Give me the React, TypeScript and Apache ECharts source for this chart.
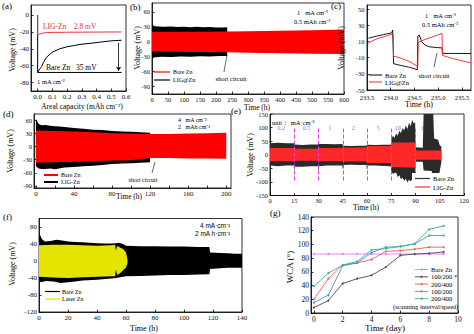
import React, { useEffect, useRef } from 'react';
import * as echarts from 'echarts';

type P = [number, number];
const SERIF = '"Liberation Serif", "Times New Roman", serif';
const SANS = '"Liberation Sans", Arial, sans-serif';

// ---------- (a) ----------
const aBareCurve: P[] = [[0, 0], [0, -68], [0.01, -65], [0.027, -61], [0.04, -56], [0.06, -50], [0.08, -47], [0.1, -44], [0.15, -40], [0.2, -37.5], [0.25, -36], [0.3, -34.5], [0.38, -33], [0.45, -31.5], [0.5, -30.5], [0.57, -29.8]];
const aLigCurve: P[] = [[0, 0], [0, -24], [0.01, -22.5], [0.03, -21.5], [0.06, -20.8], [0.1, -20.5], [0.2, -20.3], [0.3, -20.2], [0.4, -20.1], [0.5, -20], [0.57, -20]];
const aBaseline: P[] = [[0, -68], [0.57, -68]];
const aXLabels = [0, 0.1, 0.2, 0.3, 0.4, 0.5, 0.6];
const aYLabels = [-80, -60, -40, -20, 0];

// ---------- (b) ----------
const bBlackUpper: P[] = [[0, 36], [3, 33], [10, 31], [20, 30.5], [40, 30], [60, 30.5], [80, 29.5], [100, 30], [120, 29], [140, 30], [160, 29], [180, 29.5], [200, 28.5], [220, 28.5], [235, 29]];
const bBlackLower: P[] = [[0, -33], [10, -31], [30, -30], [60, -30.5], [90, -29.5], [120, -30], [150, -29], [180, -29.5], [210, -28.5], [235, -28.5]];
const bRedUpper: P[] = [[0, 20], [100, 20], [235, 20.5], [300, 21], [400, 22], [500, 23], [600, 24.5]];
const bRedLower: P[] = [[0, -19.5], [235, -21], [300, -22], [400, -23], [500, -24], [600, -24.5]];
const bXLabels = [0, 50, 100, 150, 200, 250, 300, 350, 400, 450, 500, 550, 600];
const bYLabels = [-90, -60, -30, 0, 30, 60];

// ---------- (c) ----------
const cBare: P[] = [[233.53, 14], [233.7, 16.5], [233.85, 18.5], [234.02, 20.5], [234.04, 24], [234.06, -17.5], [234.2, -19.5], [234.4, -22], [234.56, -25], [234.57, 16.5], [234.6, 18], [234.65, 10], [234.72, 5.5], [234.8, 3.5], [234.95, 2.5], [235.08, 2], [235.09, -4.8], [235.3, -4.8], [235.69, -5]];
const cLig: P[] = [[233.53, 7.5], [233.6, 10.5], [233.75, 14], [233.9, 16.5], [234.05, 19.5], [234.06, -8], [234.2, -10.5], [234.4, -15], [234.57, -21], [234.58, 9], [234.7, 12], [234.9, 16], [235.08, 20], [235.09, -7.3], [235.3, -11], [235.5, -14], [235.69, -16.5]];
const cXLabels = [233.5, 234.0, 234.5, 235.0, 235.5];
const cYLabels = [-50, -30, -10, 10, 30, 50];

// ---------- (d) ----------
const dBlackUpper: P[] = [[0, 63], [1, 60], [3, 52], [6, 49], [10, 50], [15, 48], [20, 47], [25, 46], [30, 45], [40, 43], [50, 41], [60, 39], [70, 38], [80, 36], [90, 35], [100, 34], [110, 33], [120, 32]];
const dBlackLower: P[] = [[0, -45], [3, -50], [8, -52], [15, -50], [20, -52], [30, -48], [40, -47], [50, -45], [60, -44], [70, -42], [80, -40], [90, -39], [100, -38], [110, -37], [120, -36]];
const dRedUpper: P[] = [[0, 37], [20, 36], [40, 35], [60, 33], [80, 31], [100, 30], [120, 29], [140, 29], [160, 30], [180, 31], [200, 32]];
const dRedLower: P[] = [[0, -37], [20, -36], [40, -35], [60, -33], [80, -32], [100, -31], [120, -26], [140, -26], [160, -27], [180, -27.5], [200, -28]];
const dXLabels = [0, 40, 80, 120, 160, 200];
const dXTicks = [0, 20, 40, 60, 80, 100, 120, 140, 160, 180, 200];
const dYLabels = [-90, -60, -30, 0, 30, 60];

// ---------- (e) ----------
const eBlackUpper: P[] = [[0, 42], [5, 44], [10, 42], [14.8, 42], [15, 38], [20, 36], [25, 38], [29.8, 38], [30, 48], [30.5, 40], [35, 40], [40, 39], [44.8, 40], [45, 33], [50, 32], [55, 33], [59.8, 33], [60, 37], [65, 36], [70, 37], [74.8, 37], [75, 55], [76, 70], [77, 62], [78, 78], [79, 70], [80, 88], [81, 80], [82, 98], [83, 90], [84, 108], [85, 95], [86, 118], [87, 105], [88, 128], [89, 115], [89.8, 120], [90, 28], [94.5, 26], [95, 150], [101, 150], [101.5, 60], [104, 55], [105, 35], [106, 30]];
const eBlackLower: P[] = [[0, -40], [5, -42], [10, -40], [14.7, -40], [15, -63], [15.3, -44], [20, -44], [25, -42], [29.7, -42], [30, -66], [30.3, -42], [35, -40], [40, -40], [44.7, -40], [45, -52], [45.3, -38], [50, -37], [55, -38], [59.7, -38], [60, -60], [60.3, -40], [65, -40], [70, -41], [74.7, -42], [75, -62], [76, -70], [78, -65], [79, -82], [80, -75], [81, -90], [82, -85], [83, -96], [84, -88], [85, -102], [86, -92], [87, -98], [88, -90], [89.8, -88], [90, -26], [94.5, -26], [95, -58], [100, -60], [101, -100], [103, -95], [104, -100], [105, -60], [106, -28]];
const eRedUpper: P[] = [[0, 25], [14.8, 25], [15, 22], [29.8, 22], [30, 25], [44.8, 25], [45, 27], [59.8, 27], [60, 32], [74.8, 32], [75, 45], [89.8, 45], [90, 16], [106, 16]];
const eRedLower: P[] = [[0, -24], [14.8, -24], [15, -22], [29.8, -22], [30, -24], [44.8, -24], [45, -25], [59.8, -25], [60, -30], [74.8, -30], [75, -45], [89.8, -48], [90, -18], [106, -18]];
const eSwitchTimes = [15, 30, 45, 60, 75, 90];
const eRateNames = ['0.2', '0.5', '1', '2', '5', '10', '1'];
const eRatePos = [7, 22.5, 37, 51.5, 67, 79, 94];
const eXLabels = [0, 15, 30, 45, 60, 75, 90, 105, 120];
const eYLabels = [-150, -100, -50, 0, 50, 100, 150];

// ---------- (f) ----------
const fBlackUpper: P[] = [[0, 55], [0.5, 63], [2, 52], [4, 46], [8, 47], [12, 50], [16, 48], [20, 46], [25, 45], [30, 44], [35, 43], [40, 42], [45, 41], [50, 41], [53, 42], [55, 43], [58, 40], [60, 36], [70, 35], [80, 35], [90, 34], [100, 34], [110, 33], [117.5, 33], [118, 20], [125, 19], [130, 18], [135, 17], [140, 17]];
const fBlackLower: P[] = [[0, -42], [1, -50], [5, -47], [10, -48], [15, -52], [20, -50], [25, -48], [30, -46], [40, -44], [50, -41], [53, -40], [56, -38], [60, -36], [70, -35], [80, -34], [90, -33], [100, -33], [110, -32], [117.5, -31], [118, -19], [125, -17], [130, -16], [140, -16]];
const fYellowUpper: P[] = [[0, 37], [10, 38], [20, 38], [30, 37], [40, 36], [50, 37], [52.5, 38], [53, 25], [54, 36], [56, 31], [58, 28], [60, 20], [61, 5]];
const fYellowLower: P[] = [[0, -37], [10, -39], [20, -40], [30, -38], [40, -37], [50, -36], [52.5, -36], [53, -20], [54, -33], [56, -28], [58, -22], [60, -15], [61, -5]];
const fXLabels = [0, 20, 40, 60, 80, 100, 120, 140];
const fYLabels = [-120, -80, -40, 0, 40, 80];

// ---------- (g) ----------
const gDays = [0, 1, 2, 3, 4, 5, 6, 7, 8, 9];
const gBareZn = [86, 86, 86, 86, 86, 86, 86, 86, 86, 86];
const g100Star = [8, 18, 43, 50, 55, 67, 84, 86, 87, 89];
const g200Red = [20, 50, 70, 73, 78, 90, 91, 93, 96, 96];
const g100Blue = [15, 26, 69, 73, 88, 96, 97, 101, 113, 113];
const g200Green = [39, 58, 70, 75, 92, 94, 97, 101, 122, 127];
const gNames = ['Bare Zn', '100/200 *', '200/400', '100/200', '200/400'];
const gColors = ['#e27ae8', '#4a4a4a', '#f05a5a', '#4b8fd8', '#36b58a'];
const gXLabels = [0, 2, 4, 6, 8, 10];
const gYLabels = [0, 20, 40, 60, 80, 100, 120, 140];

function axis(i: number, min: number, max: number, labels: number[], ticks: number[] | null, fmt?: (v: number) => string, fs = 7, margin = 2) {
  return {
    type: 'value', gridIndex: i, min, max,
    splitLine: { show: false },
    axisLine: { show: true, onZero: false, lineStyle: { color: '#000', width: 0.8 } },
    axisTick: { show: true, inside: true, length: 2.5, customValues: ticks ?? labels, lineStyle: { color: '#000', width: 0.8 } },
    axisLabel: { customValues: labels, interval: 0, fontSize: fs, fontFamily: SERIF, color: '#111', margin, showMinLabel: true, showMaxLabel: true, formatter: fmt ?? ((v: number) => String(v)) },
  };
}

function band(i: number, upper: P[], lower: P[], color: string, z = 2) {
  return {
    type: 'custom', xAxisIndex: i, yAxisIndex: i, coordinateSystem: 'cartesian2d',
    data: [upper[0]], silent: true, z,
    renderItem: (_p: any, api: any) => {
      const pts = upper.map((p) => api.coord(p)).concat(lower.slice().reverse().map((p) => api.coord(p)));
      return { type: 'polygon', shape: { points: pts }, style: { fill: color } };
    },
  };
}

function line(i: number, data: P[], color: string, width = 1, extra: any = {}) {
  return { type: 'line', xAxisIndex: i, yAxisIndex: i, data, showSymbol: false, symbol: 'none', lineStyle: { color, width }, itemStyle: { color }, silent: true, z: 3, ...extra };
}

function txt(x: number, y: number, text: string, o: any = {}) {
  const { rotation, ...style } = o;
  return { type: 'text', x, y, rotation: rotation ?? 0, z: 20, style: { text, fontFamily: SERIF, fontSize: 7, fill: '#000', align: 'left', verticalAlign: 'middle', ...style } };
}
function seg(x1: number, y1: number, x2: number, y2: number, color = '#000', w = 1) {
  return { type: 'line', z: 20, shape: { x1, y1, x2, y2 }, style: { stroke: color, lineWidth: w } };
}
const ylab = (x: number, y: number, t: string, fs = 8) => txt(x, y, t, { rotation: Math.PI / 2, align: 'center', fontSize: fs });
const xlab = (x: number, y: number, t: string, fs = 8) => txt(x, y, t, { align: 'center', fontSize: fs });

const f1 = (v: number) => v.toFixed(1);

const gridBoxes = [
  { left: 31, top: 5, width: 95, height: 86 },
  { left: 152, top: 3, width: 192, height: 91 },
  { left: 367, top: 5, width: 104, height: 85 },
  { left: 34, top: 114, width: 197, height: 74 },
  { left: 270, top: 114, width: 194, height: 81.5 },
  { left: 39, top: 218.5, width: 203, height: 93.5 },
  { left: 311, top: 217, width: 147, height: 96 },
];

const option: any = {
  animation: false,
  backgroundColor: '#fff',
  grid: gridBoxes.map((g) => ({ ...g, show: true, borderColor: '#000', borderWidth: 0.8, backgroundColor: 'transparent', containLabel: false, outerBoundsMode: 'none' })),
  xAxis: [
    axis(0, -0.045, 0.6, aXLabels, null, f1),
    axis(1, 0, 600, bXLabels, null, undefined, 6.5, 2),
    axis(2, 233.5, 235.69, cXLabels, null, f1, 6.5, 3.5),
    axis(3, -2, 205, dXLabels, dXTicks),
    axis(4, 0, 120, eXLabels, null, undefined, 6.5, 1.5),
    axis(5, 0, 140, fXLabels, null),
    axis(6, -0.2, 10, gXLabels, null, undefined, 7.5, 2),
  ],
  yAxis: [
    axis(0, -90, 12, aYLabels, null),
    axis(1, -105, 78, bYLabels, null, undefined, 6.5),
    axis(2, -50, 55, cYLabels, null, undefined, 6.5, 2.5),
    axis(3, -95, 75, dYLabels, null, undefined, 6.5),
    axis(4, -150, 150, eYLabels, null, undefined, 6.5),
    axis(5, -120, 100, fYLabels, null),
    axis(6, 0, 140, gYLabels, null, undefined, 7.5, 2),
  ],
  series: [
    // (a)
    line(0, aBaseline, '#000', 1),
    line(0, aBareCurve, '#000', 1, {
      markLine: {
        silent: true, symbol: ['none', 'arrow'], symbolSize: 4, label: { show: false },
        lineStyle: { color: '#000', width: 0.8, type: 'solid' },
        data: [[{ coord: [0.55, -33] }, { coord: [0.55, -66] }]],
      },
    }),
    line(0, aLigCurve, '#e8333a', 1),
    // (b)
    band(1, bBlackUpper, bBlackLower, '#000', 2),
    band(1, bRedUpper, bRedLower, '#ff0000', 3),
    // (c)
    line(2, cBare, '#000', 0.9),
    line(2, cLig, '#f22', 0.9),
    // (d)
    band(3, dBlackUpper, dBlackLower, '#000', 2),
    band(3, dRedUpper, dRedLower, '#ff0000', 3),
    // (e)
    band(4, eBlackUpper, eBlackLower, '#2a2a2a', 2),
    band(4, eRedUpper, eRedLower, '#ff2828', 3),
    {
      type: 'line', xAxisIndex: 4, yAxisIndex: 4, data: [], silent: true, z: 4,
      markLine: {
        silent: true, symbol: 'none', label: { show: false },
        lineStyle: { color: '#e040e0', width: 1, type: 'dashed' },
        data: eSwitchTimes.map((t) => [{ coord: [t, -95] }, { coord: [t, 100] }]),
      },
    },
    {
      type: 'scatter', xAxisIndex: 4, yAxisIndex: 4, silent: true, z: 5, symbolSize: 1,
      itemStyle: { color: 'rgba(0,0,0,0)' },
      data: eRateNames.map((n, i) => ({ name: n, value: [eRatePos[i], 97] })),
      label: { show: true, position: 'inside', formatter: '{b}', color: '#4646ff', fontSize: 6, fontFamily: SERIF },
    },
    // (f)
    band(5, fBlackUpper, fBlackLower, '#000', 2),
    band(5, fYellowUpper, fYellowLower, '#e4e400', 3),
    // (g)
    ...[gBareZn, g100Star, g200Red, g100Blue, g200Green].map((vals, k) => ({
      type: 'line', name: gNames[k], xAxisIndex: 6, yAxisIndex: 6, silent: true, z: 3,
      data: gDays.map((d, i) => [d, vals[i]]),
      symbol: 'circle', symbolSize: 2, showSymbol: true,
      lineStyle: { color: gColors[k], width: 0.9 }, itemStyle: { color: gColors[k] },
    })),
  ],
  graphic: [
    // panel letters
    txt(2, 6, '(a)', { fontSize: 9 }),
    txt(130, 7, '(b)', { fontSize: 9 }),
    txt(331, 6, '(c)', { fontSize: 9 }),
    txt(3, 114, '(d)', { fontSize: 9 }),
    txt(231, 111, '(e)', { fontSize: 9 }),
    txt(3, 217, '(f)', { fontSize: 9 }),
    txt(270, 213, '(g)', { fontSize: 9 }),
    // (a)
    ylab(12, 50, 'Voltage (mV)'),
    xlab(82, 106, 'Areal capacity (mAh cm⁻²)', 7.5),
    txt(43, 26, 'LIG-Zn    2.8 mV', { fill: '#e8333a', fontSize: 7.5 }),
    txt(46, 67, 'Bare Zn   35 mV', { fontSize: 7.5 }),
    txt(37, 81, '1 mA cm⁻²', { fontSize: 6.5 }),
    // (b)
    ylab(137, 48, 'Voltage (mV)'),
    xlab(257, 107, 'Time (h)', 7.5),
    txt(297, 12, '1   mA cm⁻²', { fontSize: 6.5 }),
    txt(294, 21, '0.5 mAh cm⁻²', { fontSize: 6.5 }),
    seg(154, 72, 170, 72, '#ff0000', 1.2), txt(173, 72, 'Bare Zn', { fontSize: 6 }),
    seg(154, 80, 170, 80, '#000', 1.2), txt(173, 80, 'LIG@Zn', { fontSize: 6 }),
    seg(227, 55, 224, 72, '#000', 0.6), txt(231, 78, 'short circuit', { fontSize: 6.5, align: 'center' }),
    // (c)
    ylab(341, 48, 'Voltage (mV)'),
    xlab(419, 104, 'Time (h)'),
    txt(425, 15, '1   mA cm⁻²', { fontSize: 6.5 }),
    txt(422, 24, '0.5 mAh cm⁻²', { fontSize: 6.5 }),
    seg(369, 75, 382, 75, '#000', 1), txt(385, 75, 'Bare Zn', { fontSize: 6.5 }),
    seg(369, 82, 382, 82, '#f22', 1), txt(385, 82, 'LIG@Zn', { fontSize: 6.5 }),
    seg(437, 53, 434, 67, '#000', 0.6), txt(434, 75, 'short circuit', { fontSize: 6.5, align: 'center' }),
    // (d)
    ylab(10, 151, 'Voltage (mV)'),
    txt(129, 196, 'Time (h)', { fontSize: 7.5, align: 'center' }),
    txt(178, 120, '4   mA cm⁻²', { fontSize: 6 }),
    txt(178, 126.5, '2   mAh cm⁻²', { fontSize: 6 }),
    seg(44, 175, 58, 175, '#ff0000', 2), txt(61, 175, 'Bare Zn', { fontSize: 6 }),
    seg(44, 182, 58, 182, '#000', 2), txt(61, 182, 'LIG-Zn', { fontSize: 6 }),
    seg(155, 162, 152, 173, '#000', 0.6), txt(143, 180, 'short circuit', { fontSize: 6, align: 'center' }),
    // (e)
    ylab(250, 155, 'Voltage (mV)'),
    xlab(366, 207.5, 'Time (h)', 7.5),
    txt(272, 122, 'unit： mA·cm⁻²', { fontSize: 6.5 }),
    { type: 'rect', z: 15, shape: { x: 412, y: 173, width: 51, height: 19 }, style: { fill: '#fff' } },
    seg(415, 178.5, 430, 178.5, '#333', 1.2), txt(433, 178.5, 'Bare Zn', { fontSize: 6.5 }),
    seg(415, 187, 430, 187, '#ff3030', 1.2), txt(433, 187, 'LIG-Zn', { fontSize: 6.5 }),
    // (f)
    ylab(12, 264, 'Voltage (mV)'),
    xlab(144, 328, 'Time (h)'),
    txt(200, 225, '4 mA·cm⁻²', { fontSize: 6.5, fontFamily: SANS }),
    txt(195, 233, '2 mA h·cm⁻²', { fontSize: 6.5, fontFamily: SANS }),
    seg(45, 291.5, 60, 291.5, '#000', 1.2), txt(62, 291.5, 'Bare Zn', { fontSize: 6 }),
    seg(45, 299, 60, 299, '#e4e400', 1.2), txt(62, 299, 'Laser Zn', { fontSize: 6 }),
    // (g)
    ylab(290, 267, 'WCA (°)', 9),
    xlab(385, 328, 'Time (day)', 9),
    ...gNames.flatMap((n, k) => {
      const y = 269.5 + k * 7.3;
      return [
        seg(415, y, 428, y, gColors[k], 0.9),
        { type: 'circle', z: 20, shape: { cx: 421.5, cy: y, r: 1 }, style: { fill: gColors[k] } },
        txt(431, y, n, { fontSize: 6.5 }),
      ];
    }),
    txt(393, 306.5, '(scanning interval/speed)', { fontSize: 6.5 }),
  ],
};

export default function App() {
  const ref = useRef<HTMLDivElement>(null);
  useEffect(() => {
    document.body.style.margin = '0';
    const chart = echarts.init(ref.current!, null, { renderer: 'svg' });
    chart.setOption(option);
    return () => chart.dispose();
  }, []);
  return <div ref={ref} style={{ position: 'absolute', left: 0, top: 0, width: 474, height: 334 }} />;
}
